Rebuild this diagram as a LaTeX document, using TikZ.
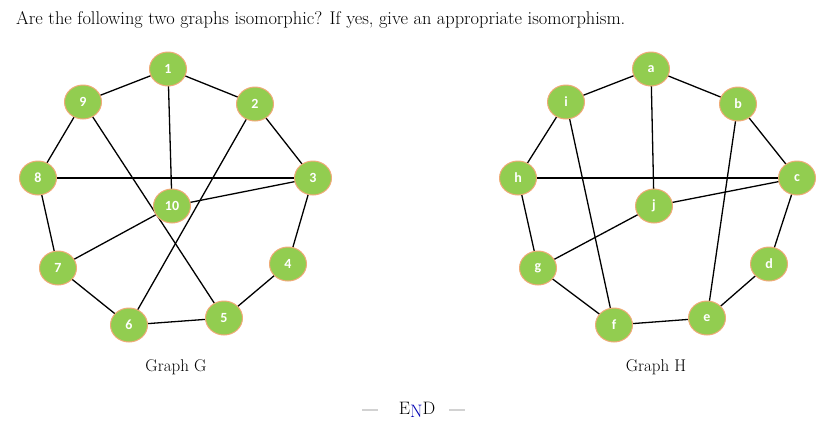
\documentclass[tikz,border=0pt]{standalone}
\usetikzlibrary{shapes.geometric}
\usepackage{fontspec}
\newfontfamily\nodefont{Carlito}
\begin{document}
\begin{tikzpicture}[x=1pt,y=-1pt,
  vtx/.style={ellipse,draw={rgb,255:red,240;green,170;blue,120},line width=1pt,fill={rgb,255:red,146;green,205;blue,80},minimum width=37pt,minimum height=34pt,inner sep=0pt,text=white,font=\nodefont\bfseries\fontsize{14}{14}\selectfont},
  edge/.style={line width=1.3pt}]
\useasboundingbox (0,0) rectangle (827,432);
\node[anchor=west,inner sep=0pt,font=\fontsize{18.4}{20}\selectfont] (title) at (16,20) {Are the following two graphs isomorphic? If yes, give an appropriate isomorphism.};
\foreach \n/\x/\y in {g1/168/69,g2/255/104,g3/313/178,g4/288/264,g5/224/318,g6/129/325,g7/58/268,g8/38/178,g9/83/102,g10/172/206,
  ha/651/69,hb/738/104,hc/797/178,hd/769/264,he/707/318,hf/614/325,hg/538/268,hh/518/178,hi/566/102,hj/654/206}
  \coordinate (\n) at (\x,\y);
\foreach \a/\b in {g1/g9,g1/g2,g1/g10,g9/g8,g9/g5,g2/g3,g2/g6,g8/g3,g8/g7,g3/g10,g3/g4,g10/g7,g7/g6,g6/g5,g5/g4,
  ha/hi,ha/hb,ha/hj,hi/hh,hi/hf,hb/hc,hb/he,hh/hc,hh/hg,hc/hj,hc/hd,hj/hg,hg/hf,hf/he,he/hd}
  \draw[edge] (\a) -- (\b);
\foreach \n/\l in {g1/1,g2/2,g3/3,g4/4,g5/5,g6/6,g7/7,g8/8,g9/9,g10/10,ha/a,hb/b,hc/c,hd/d,he/e,hf/f,hg/g,hh/h,hi/i,hj/j}
  \node[vtx] (v\n) at (\n) {\l};
\node[font=\fontsize{17}{19}\selectfont] (capG) at (176,367) {Graph G};
\node[font=\fontsize{17}{19}\selectfont] (capH) at (656,367) {Graph H};
\node[font=\fontsize{18}{20}\selectfont] (endt) at (417,410) {E\raisebox{-0.35ex}{\textcolor{blue!70!black}{N}}D};
\draw[gray!35,line width=1.2pt] (362,410) -- (378,410) (449,410) -- (465,410);
\end{tikzpicture}
\end{document}
